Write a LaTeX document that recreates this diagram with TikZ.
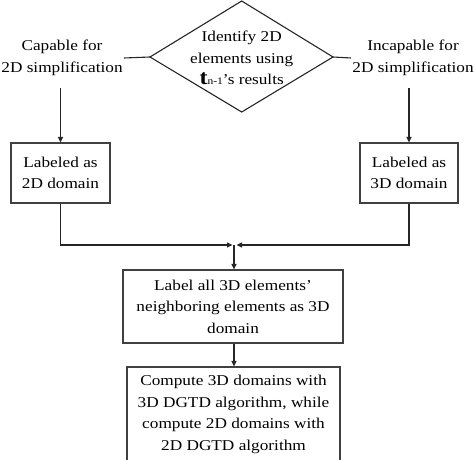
\documentclass[tikz,border=0pt]{standalone}
\usepackage{fontspec}
\setmainfont{Liberation Serif}[FakeStretch=1.15]
\usetikzlibrary{arrows.meta}
\begin{document}
\begin{tikzpicture}[x=1pt,y=-1pt,
  line/.style={draw=black!85,line width=1.1pt},
  arr/.style={line,-{Triangle[length=5.5pt,width=5pt]}},
  txt/.style={align=center,inner sep=0pt,font=\fontsize{15}{21.5}\selectfont},
  boxnode/.style={txt,draw=black!75,line width=1.1pt}]
\useasboundingbox (0,0) rectangle (474,460);
% diamond
\coordinate (dT) at (241.7,1);
\coordinate (dR) at (333,57);
\coordinate (dB) at (241.7,112);
\coordinate (dL) at (150,57);
\draw[line] (dT) -- (dR) -- (dB) -- (dL) -- cycle;
\node[txt] (dtext) at (241.7,58) {Identify 2D\\elements using\\{\fontsize{21}{21.5}\selectfont\bfseries t}{\fontsize{10}{10}\selectfont n-1}’s results};
% side texts
\node[txt,inner xsep=1pt] (cap) at (62,58) {Capable for\\2D simplification};
\node[txt,inner xsep=1pt] (incap) at (413,58) {Incapable for\\2D simplification};
\draw[line] (dL) -- (cap.east);
\draw[line] (dR) -- (incap.west);
% boxes
\node[boxnode,minimum width=99,minimum height=60] (b1) at (60.5,173) {Labeled as\\2D domain};
\node[boxnode,minimum width=98,minimum height=60] (b2) at (409,173) {Labeled as\\3D domain};
\coordinate (c1) at (60.5,88);
\coordinate (c2) at (409,88);
\draw[arr] (c1) -- (b1.north);
\draw[arr] (c2) -- (b2.north);
% merge
\coordinate (ml) at (232.5,245);
\coordinate (mr) at (236.5,245);
\coordinate (mc) at (234,245);
\draw[arr] (b1.south) |- (ml);
\draw[arr] (b2.south) |- (mr);
\node[boxnode,minimum width=220,minimum height=73] (b3) at (233,306.5) {Label all 3D elements’\\neighboring elements as 3D\\domain};
\node[boxnode,minimum width=213,minimum height=95] (b4) at (233.5,414.5) {Compute 3D domains with\\3D DGTD algorithm, while\\compute 2D domains with\\2D DGTD algorithm};
\draw[arr] (mc) -- (mc |- b3.north);
\draw[arr] (mc |- b3.south) -- (mc |- b4.north);
\end{tikzpicture}
\end{document}
